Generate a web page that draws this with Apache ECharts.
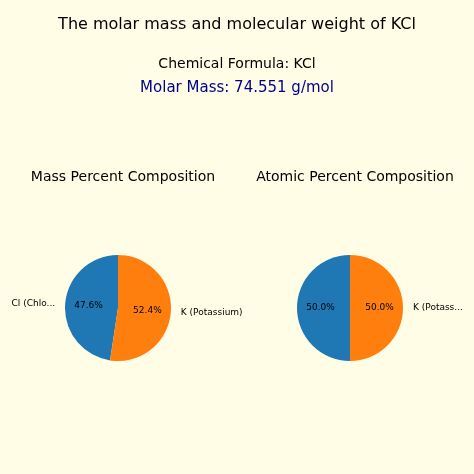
<!DOCTYPE html>
<html><head><meta charset="utf-8">
<script src="https://cdn.jsdelivr.net/npm/echarts@6/dist/echarts.min.js"></script>
<style>html,body{margin:0;padding:0;background:#fffde6}#c{width:474px;height:474px}</style>
</head><body><div id="c"></div>
<script>
const elements = ['Cl (Chlorine)', 'K (Potassium)']
const massPercent = [47.6, 52.4]
const atomicPercent = [50.0, 50.0]
const colors = ['#1f77b4', '#ff7f0e']
const font = 'DejaVu Sans'

const chart = echarts.init(document.getElementById('c'), null, {renderer: 'canvas'})

const makePie = (vals, cx) => {
    const data = elements.map((n, i) => ({name: n, value: vals[i], itemStyle: {color: colors[i]}}))
    return [
        {
            type: 'pie', center: [cx, 308], radius: 53, startAngle: 90, clockwise: false,
            silent: true, animation: false, data: data,
            label: {position: 'inside', formatter: p => p.value.toFixed(1) + '%',
                    fontFamily: font, fontSize: 9, color: '#000', distance: 0.4}
        },
        {
            type: 'pie', center: [cx, 308], radius: 53, startAngle: 90, clockwise: false,
            silent: true, animation: false,
            data: data.map(d => ({name: d.name, value: d.value, itemStyle: {color: 'rgba(0,0,0,0)'}})),
            label: {position: 'outside', fontFamily: font, fontSize: 9, color: '#000'},
            labelLine: {show: false, length: 5, length2: 0}
        }
    ]
}

chart.setOption({
    backgroundColor: '#fffde6',
    title: [
        {text: 'The molar mass and molecular weight of KCl', left: 'center', top: 12,
         textStyle: {fontFamily: font, fontSize: 16, fontWeight: 'normal', color: '#000'}},
        {text: 'Chemical Formula: KCl', left: 'center', top: 52,
         textStyle: {fontFamily: font, fontSize: 14, fontWeight: 'normal', color: '#000'}},
        {text: 'Molar Mass: 74.551 g/mol', left: 'center', top: 76,
         textStyle: {fontFamily: font, fontSize: 15, fontWeight: 'normal', color: '#00008b'}},
        {text: 'Mass Percent Composition', left: 118, textAlign: 'center', top: 165,
         textStyle: {fontFamily: font, fontSize: 14, fontWeight: 'normal', color: '#000'}},
        {text: 'Atomic Percent Composition', left: 350, textAlign: 'center', top: 165,
         textStyle: {fontFamily: font, fontSize: 14, fontWeight: 'normal', color: '#000'}}
    ],
    series: [...makePie(massPercent, 118), ...makePie(atomicPercent, 350)]
})
</script></body></html>
